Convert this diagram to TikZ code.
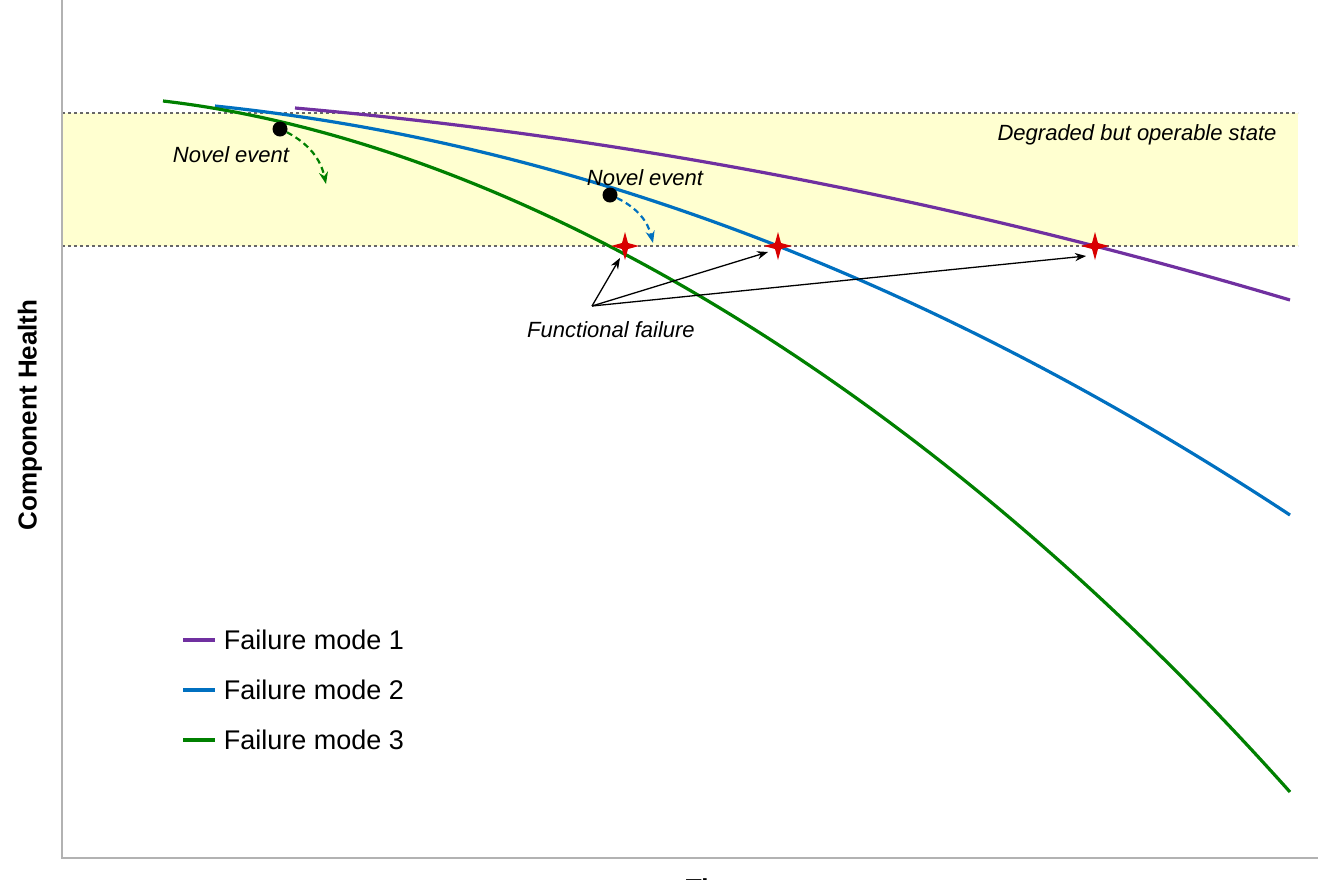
\documentclass[tikz,border=0pt]{standalone}
\usepackage{fontspec}
\setmainfont{Liberation Sans}
\usetikzlibrary{arrows.meta}
\definecolor{fm1}{RGB}{112,48,160}
\definecolor{fm2}{RGB}{0,112,192}
\definecolor{fm3}{RGB}{0,128,0}
\definecolor{band}{RGB}{255,255,208}
\tikzset{curve/.style={line width=3.2pt},
 lbl/.style={font=\itshape\fontsize{22}{24}\selectfont},
 leg/.style={font=\fontsize{27}{30}\selectfont, anchor=west},
 dotline/.style={gray!80!black, dash pattern=on 3pt off 3pt, line width=1.2pt},
 evt/.style={circle, fill=black, inner sep=0pt, minimum size=15pt},
 ffarrow/.style={-{Stealth[length=11pt]}, line width=1.3pt},
 evarrow/.style={line width=2.2pt, dash pattern=on 6pt off 4pt, -{Stealth[length=12pt]}}}
\newcommand{\failstar}[1]{\fill[red!85!black] #1 +(0,-14) -- +(3,-3) -- +(14,0) -- +(3,3) -- +(0,14) -- +(-3,3) -- +(-14,0) -- +(-3,-3) -- cycle;}
\begin{document}
\begin{tikzpicture}[x=1pt,y=-1pt]
\useasboundingbox (0,0) rectangle (1318,879);
\clip (0,0) rectangle (1318,879);
\fill[band] (62,113) rectangle (1298,246);
\draw[dotline] (62,113) -- (1298,113);
\draw[dotline] (62,246) -- (1298,246);
\draw[gray!60, line width=2pt] (62,0) -- (62,858) -- (1318,858);
\node[font=\bfseries\fontsize{26}{28}\selectfont, rotate=90] (yl) at (30,415) {Component Health};
\node[font=\bfseries\fontsize{26}{28}\selectfont] (xl) at (716,888) {Time};
\node[lbl, anchor=east] (deg) at (1280,135) {Degraded but operable state};
\draw[curve, fm1] (295,108) .. controls (626.7,137.4) and (958.3,201.4) .. (1290,300);
\draw[curve, fm2] (215,106) .. controls (573.3,143.2) and (931.7,279.5) .. (1290,515);
\draw[curve, fm3] (163,101) .. controls (500,140) and (914.3,371.1) .. (1290,792);
\node[evt] (e1) at (280,129) {};
\node[evt] (e2) at (610,195) {};
\node[lbl] (n1) at (231,155) {Novel event};
\node[lbl] (n2) at (645,178) {Novel event};
\coordinate (a1) at (326,184);
\coordinate (a2) at (653,243);
\draw[fm3, evarrow] (e1) to[bend left=25] (a1);
\draw[fm2, evarrow] (e2) to[bend left=25] (a2);
\coordinate (s1) at (625,246);
\coordinate (s2) at (778,246);
\coordinate (s3) at (1095,246);
\failstar{(s1)}
\failstar{(s2)}
\failstar{(s3)}
\node[lbl] (ff) at (611,330) {Functional failure};
\coordinate (o) at (592,306);
\draw[ffarrow] (o) -- (620,258);
\draw[ffarrow] (o) -- (768,252);
\draw[ffarrow] (o) -- (1086,256);
\draw[fm1, line width=3.2pt] (183,640) -- (215,640) node[leg, black, right=4pt] (l1) {Failure mode 1};
\draw[fm2, line width=3.2pt] (183,690) -- (215,690) node[leg, black, right=4pt] (l2) {Failure mode 2};
\draw[fm3, line width=3.2pt] (183,740) -- (215,740) node[leg, black, right=4pt] (l3) {Failure mode 3};
\end{tikzpicture}
\end{document}
